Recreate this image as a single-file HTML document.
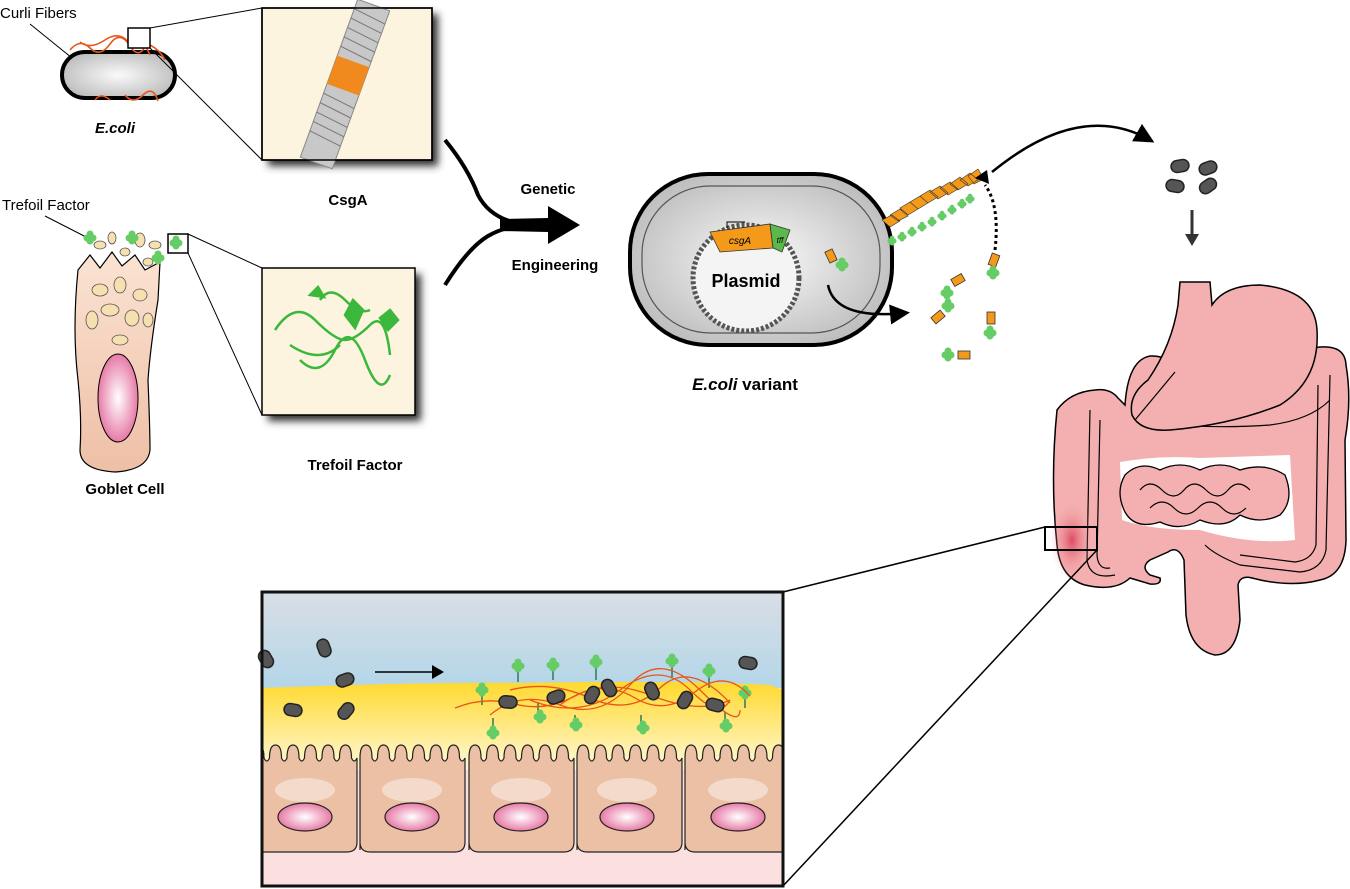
<!DOCTYPE html>
<html><head><meta charset="utf-8"><style>
html,body{margin:0;padding:0;background:#fff;}
svg{display:block;font-family:"Liberation Sans",Arial,sans-serif;}
</style></head><body>
<svg width="1350" height="889" viewBox="0 0 1350 889" xmlns="http://www.w3.org/2000/svg">
<defs>
<radialGradient id="cellg" cx="0.5" cy="0.5" r="0.6"><stop offset="0" stop-color="#fafafa"/><stop offset="1" stop-color="#b8b8b8"/></radialGradient>
<radialGradient id="nuc" cx="0.5" cy="0.5" r="0.5"><stop offset="0" stop-color="#fff"/><stop offset="1" stop-color="#e77aa6"/></radialGradient>
<linearGradient id="yel" x1="0" y1="0" x2="0" y2="1"><stop offset="0" stop-color="#ffd92e"/><stop offset="1" stop-color="#fff9d8"/></linearGradient>
<linearGradient id="blue" x1="0" y1="0" x2="0" y2="1"><stop offset="0" stop-color="#d9dee6"/><stop offset="1" stop-color="#b3d6e8"/></linearGradient>
<linearGradient id="gob" x1="0" y1="0" x2="0" y2="1"><stop offset="0" stop-color="#fbe3d3"/><stop offset="1" stop-color="#eebfa6"/></linearGradient>
<radialGradient id="red" cx="0.5" cy="0.5" r="0.5"><stop offset="0" stop-color="#d83050" stop-opacity="0.8"/><stop offset="1" stop-color="#f5b0b0" stop-opacity="0"/></radialGradient>
<filter id="sh" x="-20%" y="-20%" width="150%" height="150%"><feGaussianBlur stdDeviation="4"/></filter>
<clipPath id="pc"><rect x="262" y="592" width="521" height="294"/></clipPath>
<marker id="ah" markerWidth="8" markerHeight="8" refX="6" refY="4" orient="auto" markerUnits="strokeWidth"><path d="M0,0 L8,4 L0,8 z" fill="#000"/></marker>
<g id="bac"><rect x="-9" y="-6" width="18" height="12" rx="6" fill="#555" stroke="#222" stroke-width="1.5"/></g>
<g id="tf"><circle cx="-3" cy="0" r="3.5" fill="#6c6"/><circle cx="3" cy="0" r="3.5" fill="#6c6"/><circle cx="0" cy="-4" r="3.5" fill="#6c6"/><circle cx="0" cy="3" r="3.5" fill="#6c6"/></g>
<path id="cell" d="M0,850 L0,758 q0,-13 6,-13 q6,0 6,13 q2.75,6 5.5,0 q0,-13 6,-13 q6,0 6,13 q2.75,6 5.5,0 q0,-13 6,-13 q6,0 6,13 q2.75,6 5.5,0 q0,-13 6,-13 q6,0 6,13 q2.75,6 5.5,0 q0,-13 6,-13 q6,0 6,13 q2.75,6 5.5,0 q0,-13 6,-13 q6,0 6,13 q2.75,6 5.5,0 L105,842 Q105,852 95,852 L10,852 Q0,852 0,842 Z" fill="#ecc0a4" stroke="#222" stroke-width="1.2"/>
</defs>

<!-- Top-left E. coli -->
<text x="0" y="18" font-size="15">Curli Fibers</text>
<line x1="30" y1="24" x2="72" y2="58" stroke="#000" stroke-width="1"/>
<rect x="62" y="52" width="113" height="46" rx="23" fill="url(#cellg)" stroke="#000" stroke-width="4"/>
<g fill="none" stroke="#e8561a" stroke-width="1.6">
<path d="M70,50 q10,-12 20,-2 t20,-4 t20,2 t18,-6 M80,42 q10,8 25,-2 t25,4 M125,95 q8,10 18,0 t15,6 M95,100 q6,-8 15,0 M135,35 q10,8 15,20 M150,45 q10,5 15,15"/>
</g>
<rect x="128" y="28" width="22" height="20" fill="#fff" stroke="#000" stroke-width="1.5"/>
<line x1="150" y1="28" x2="262" y2="8" stroke="#000"/><line x1="150" y1="48" x2="262" y2="160" stroke="#000"/>
<text x="115" y="133" font-size="15" font-weight="bold" font-style="italic" text-anchor="middle">E.coli</text>
<rect x="268" y="14" width="170" height="152" fill="#333" filter="url(#sh)"/>
<rect x="262" y="8" width="170" height="152" fill="#fdf4e0" stroke="#000" stroke-width="1.5"/>
<g transform="rotate(20 345 84)">
<rect x="328" y="0" width="34" height="168" fill="#c8c8c8" stroke="#888"/>
<rect x="328" y="60" width="34" height="30" fill="#f08a1e"/>
<g stroke="#777" stroke-width="1">
<line x1="328" y1="10" x2="362" y2="14"/><line x1="328" y1="20" x2="362" y2="24"/><line x1="328" y1="30" x2="362" y2="34"/><line x1="328" y1="40" x2="362" y2="44"/><line x1="328" y1="50" x2="362" y2="54"/><line x1="328" y1="100" x2="362" y2="104"/><line x1="328" y1="110" x2="362" y2="114"/><line x1="328" y1="120" x2="362" y2="124"/><line x1="328" y1="130" x2="362" y2="134"/><line x1="328" y1="140" x2="362" y2="144"/></g>
</g>
<rect x="262" y="8" width="170" height="152" fill="none" stroke="#000" stroke-width="1.5"/>
<text x="348" y="205" font-size="15" font-weight="bold" text-anchor="middle">CsgA</text>

<!-- Goblet cell -->
<text x="2" y="210" font-size="15">Trefoil Factor</text>
<line x1="45" y1="216" x2="88" y2="238" stroke="#000"/>
<path d="M78,270 L90,255 L100,268 L112,252 L122,266 L135,255 L145,270 L160,262 L158,300 Q150,350 148,380 Q150,430 150,450 Q148,470 115,472 Q80,470 80,450 Q82,420 78,380 Q72,330 78,270 Z" fill="url(#gob)" stroke="#000" stroke-width="1.2"/>
<g fill="#f7e0b0" stroke="#555" stroke-width="0.8">
<ellipse cx="100" cy="245" rx="6" ry="4"/><ellipse cx="112" cy="238" rx="4" ry="6"/><ellipse cx="140" cy="240" rx="5" ry="7"/><ellipse cx="155" cy="245" rx="6" ry="4"/><ellipse cx="125" cy="252" rx="5" ry="4"/><ellipse cx="148" cy="262" rx="5" ry="4"/><ellipse cx="100" cy="290" rx="8" ry="6"/><ellipse cx="120" cy="285" rx="6" ry="8"/><ellipse cx="140" cy="295" rx="7" ry="6"/><ellipse cx="110" cy="310" rx="9" ry="6"/><ellipse cx="132" cy="318" rx="7" ry="8"/><ellipse cx="92" cy="320" rx="6" ry="9"/><ellipse cx="148" cy="320" rx="5" ry="7"/><ellipse cx="120" cy="340" rx="8" ry="5"/></g>
<g transform="translate(90,238)"><use href="#tf"/></g><g transform="translate(132,238)"><use href="#tf"/></g><g transform="translate(158,258)"><use href="#tf"/></g><g transform="translate(176,243)"><use href="#tf"/></g>
<ellipse cx="118" cy="398" rx="20" ry="44" fill="url(#nuc)" stroke="#000" stroke-width="1"/>
<rect x="168" y="234" width="20" height="19" fill="none" stroke="#000" stroke-width="1.5"/>
<line x1="188" y1="234" x2="262" y2="268" stroke="#000"/><line x1="188" y1="253" x2="262" y2="415" stroke="#000"/>
<text x="125" y="494" font-size="15" font-weight="bold" text-anchor="middle">Goblet Cell</text>
<rect x="268" y="274" width="153" height="147" fill="#333" filter="url(#sh)"/>
<rect x="262" y="268" width="153" height="147" fill="#fdf4e0" stroke="#000" stroke-width="1.5"/>
<g fill="none" stroke="#3bb83b" stroke-width="2.5">
<path d="M275,330 q20,-30 40,-10 t30,20 t25,-15 t20,30 M300,360 q20,20 35,-10 t30,10 t25,15 M320,300 q10,-15 25,0 t25,10 M290,345 q30,20 50,0"/>
<path d="M345,315 l8,-15 l10,10 l-8,18 z M380,318 l10,-8 l8,10 l-10,10 z M310,295 l8,-8 l6,10 z" fill="#3bb83b"/></g>
<text x="355" y="470" font-size="15" font-weight="bold" text-anchor="middle">Trefoil Factor</text>

<!-- Engineering arrows -->
<path d="M445,140 Q468,168 478,195 Q492,222 530,225" fill="none" stroke="#000" stroke-width="4"/>
<path d="M445,285 Q468,248 488,236 Q505,226 530,225" fill="none" stroke="#000" stroke-width="4"/>
<path d="M500,219 L548,218 L548,206 L580,225 L548,244 L548,232 L500,231 z" fill="#000"/>
<text x="548" y="194" font-size="15" font-weight="bold" text-anchor="middle">Genetic</text>
<text x="555" y="270" font-size="15" font-weight="bold" text-anchor="middle">Engineering</text>

<!-- E coli variant -->
<rect x="630" y="174" width="262" height="171" rx="78" fill="url(#cellg)" stroke="#000" stroke-width="4"/>
<rect x="642" y="186" width="238" height="147" rx="68" fill="none" stroke="#555" stroke-width="1.2"/>
<circle cx="746" cy="278" r="53" fill="#f4f4f4" stroke="#555" stroke-width="5" stroke-dasharray="3 2"/>
<path d="M710,232 L770,224 L773,248 L720,252 z" fill="#f49a1a" stroke="#333" stroke-width="0.8"/>
<path d="M770,224 L790,230 L782,252 L773,248 z" fill="#5bb84b" stroke="#333" stroke-width="0.8"/>
<text x="740" y="244" font-size="10" font-style="italic" text-anchor="middle">csgA</text>
<text x="780" y="243" font-size="8" font-style="italic" text-anchor="middle">tff</text>
<path d="M727,228 v-6 h18" fill="none" stroke="#000" stroke-width="1"/>
<text x="746" y="287" font-size="18" font-weight="bold" text-anchor="middle">Plasmid</text>
<text x="745" y="390" font-size="17" font-weight="bold" text-anchor="middle"><tspan font-style="italic">E.coli</tspan> variant</text>
<!-- fiber -->
<g fill="#f49a1a" stroke="#333" stroke-width="0.6">
<path d="M882,220 l10,-5 l8,6 l-10,6 z M890,215 l10,-6 l8,7 l-10,5 z M900,208 l10,-6 l8,7 l-10,6 z M910,202 l10,-6 l8,7 l-10,6 z M920,196 l10,-6 l8,7 l-10,6 z M930,192 l10,-6 l8,7 l-10,6 z M940,188 l10,-6 l8,7 l-10,6 z M950,184 l10,-7 l8,7 l-10,6 z M960,180 l10,-7 l8,7 l-10,6 z M968,176 l10,-7 l6,10 l-10,5 z"/></g>
<g><use href="#tf" transform="translate(892,241) scale(0.7)"/><use href="#tf" transform="translate(902,237) scale(0.7)"/><use href="#tf" transform="translate(912,232) scale(0.7)"/><use href="#tf" transform="translate(922,227) scale(0.7)"/><use href="#tf" transform="translate(932,222) scale(0.7)"/><use href="#tf" transform="translate(942,216) scale(0.7)"/><use href="#tf" transform="translate(952,210) scale(0.7)"/><use href="#tf" transform="translate(962,204) scale(0.7)"/><use href="#tf" transform="translate(970,199) scale(0.7)"/></g>
<g fill="#f49a1a" stroke="#333" stroke-width="0.8">
<rect x="827" y="250" width="8" height="12" transform="rotate(-25 831 256)"/><rect x="990" y="254" width="8" height="12" transform="rotate(20 994 260)"/><rect x="952" y="276" width="12" height="8" transform="rotate(-30 958 280)"/><rect x="932" y="313" width="12" height="8" transform="rotate(-40 938 317)"/><rect x="987" y="312" width="8" height="12"/><rect x="958" y="351" width="12" height="8"/></g>
<use href="#tf" transform="translate(842,265)"/><use href="#tf" transform="translate(993,273)"/><use href="#tf" transform="translate(947,293)"/><use href="#tf" transform="translate(948,306)"/><use href="#tf" transform="translate(990,333)"/><use href="#tf" transform="translate(948,355)"/>
<path d="M828,285 Q835,320 905,313" fill="none" stroke="#000" stroke-width="2.5" marker-end="url(#ah)"/>
<path d="M995,250 Q1000,205 985,185" fill="none" stroke="#000" stroke-width="3" stroke-dasharray="3 3"/>
<path d="M975,178 l12,-8 l2,14 z" fill="#000"/>
<path d="M992,172 Q1080,100 1150,140" fill="none" stroke="#000" stroke-width="2.5" marker-end="url(#ah)"/>
<use href="#bac" transform="translate(1180,166) rotate(-10)"/><use href="#bac" transform="translate(1208,168) rotate(-20)"/><use href="#bac" transform="translate(1175,186) rotate(10)"/><use href="#bac" transform="translate(1208,186) rotate(-35)"/>
<line x1="1192" y1="210" x2="1192" y2="236" stroke="#333" stroke-width="3"/><path d="M1185,234 l14,0 l-7,12 z" fill="#333"/>

<!-- GI tract -->
<g stroke="#000" stroke-width="1.5" fill="#f4b0b0">
<!-- colon silhouette -->
<path d="M1057,410 Q1070,392 1095,390 Q1110,388 1118,398 L1125,405 Q1128,360 1150,356 Q1170,355 1175,372 L1250,362 Q1300,350 1320,347 Q1345,345 1346,365 Q1352,400 1345,440 L1346,540 Q1345,575 1320,580 Q1290,588 1252,578 Q1240,575 1238,585 L1240,620 Q1236,655 1215,655 Q1190,650 1186,615 L1184,560 Q1178,545 1168,552 L1150,560 Q1140,567 1150,575 L1160,578 Q1162,585 1150,584 L1130,578 Q1115,592 1085,585 Q1060,578 1057,545 Q1050,480 1057,410 Z"/>
</g>
<path d="M1120,462 Q1160,455 1200,458 L1290,455 L1295,540 Q1250,545 1200,530 Q1150,530 1122,520 Z" fill="#fff"/>
<g fill="#f4b0b0" stroke="#000" stroke-width="1.3">
<path d="M1125,475 q15,-15 35,-5 q20,-10 40,0 q20,-10 40,0 q25,-8 45,5 q10,25 -5,40 q-20,10 -40,0 q-15,15 -40,5 q-20,12 -40,2 q-25,8 -35,-10 q-10,-20 0,-37 Z"/>
</g>
<g fill="none" stroke="#000" stroke-width="1.2">
<path d="M1140,490 q10,-12 22,0 t22,0 t22,0 t22,0 t22,0 M1150,508 q12,-12 24,0 t24,0 t24,0 t24,0"/>
<path d="M1090,410 L1087,560 Q1090,580 1115,575 M1100,420 L1097,555 Q1098,570 1110,568"/>
<path d="M1330,375 L1326,550 Q1322,570 1300,572 L1240,565 Q1215,555 1205,545 M1318,385 L1316,545 Q1312,560 1295,562 L1240,555"/>
<path d="M1135,420 Q1200,430 1270,425 Q1310,420 1330,400"/>
</g>
<path d="M1180,282 L1210,282 L1212,305 Q1225,285 1260,285 Q1315,290 1317,330 Q1320,380 1280,405 Q1230,425 1170,430 Q1140,432 1132,415 Q1128,395 1148,380 Q1172,345 1178,305 Z" fill="#f4b0b0" stroke="#000" stroke-width="1.5"/>
<path d="M1135,420 Q1160,390 1175,372" fill="none" stroke="#000" stroke-width="1.2"/>
<ellipse cx="1072" cy="540" rx="22" ry="40" fill="url(#red)"/>
<rect x="1045" y="527" width="52" height="23" fill="none" stroke="#000" stroke-width="2"/>
<line x1="1045" y1="527" x2="783" y2="592" stroke="#000" stroke-width="1.5"/>
<line x1="1097" y1="550" x2="783" y2="886" stroke="#000" stroke-width="1.5"/>

<!-- Bottom panel -->
<g clip-path="url(#pc)">
<rect x="262" y="592" width="521" height="294" fill="#fce0e0"/>
<rect x="262" y="592" width="521" height="96" fill="url(#blue)"/>
<path d="M262,688 Q420,682 520,683 Q680,680 770,685 L783,690 L783,770 L262,770 Z" fill="url(#yel)"/>
<use href="#cell" transform="translate(252,0)"/>
<use href="#cell" transform="translate(360,0)"/>
<use href="#cell" transform="translate(469,0)"/>
<use href="#cell" transform="translate(577,0)"/>
<use href="#cell" transform="translate(685,0)"/>
</g>
<g fill="#f7e6dc" opacity="0.7"><ellipse cx="305" cy="790" rx="30" ry="12"/><ellipse cx="412" cy="790" rx="30" ry="12"/><ellipse cx="521" cy="790" rx="30" ry="12"/><ellipse cx="627" cy="790" rx="30" ry="12"/><ellipse cx="738" cy="790" rx="30" ry="12"/></g>
<g fill="url(#nuc)" stroke="#222" stroke-width="1.2">
<ellipse cx="305" cy="817" rx="27" ry="14"/><ellipse cx="412" cy="817" rx="27" ry="14"/><ellipse cx="521" cy="817" rx="27" ry="14"/><ellipse cx="627" cy="817" rx="27" ry="14"/><ellipse cx="738" cy="817" rx="27" ry="14"/></g>
<line x1="375" y1="672" x2="432" y2="672" stroke="#000" stroke-width="1.5"/><path d="M432,665 l12,7 l-12,7 z" fill="#000"/>
<use href="#bac" transform="translate(324,648) rotate(70)"/><use href="#bac" transform="translate(345,680) rotate(-20)"/><use href="#bac" transform="translate(293,710) rotate(10)"/><use href="#bac" transform="translate(346,711) rotate(-50)"/><use href="#bac" transform="translate(266,659) rotate(60)"/><use href="#bac" transform="translate(748,663) rotate(10)"/>
<g stroke="#2a7a5a" stroke-width="1.5"><line x1="518" y1="670" x2="518" y2="682"/><line x1="553" y1="669" x2="553" y2="680"/><line x1="596" y1="665" x2="596" y2="680"/><line x1="672" y1="664" x2="672" y2="677"/><line x1="709" y1="675" x2="709" y2="688"/><line x1="482" y1="693" x2="482" y2="705"/><line x1="745" y1="697" x2="745" y2="708"/><line x1="538" y1="702" x2="538" y2="715"/><line x1="575" y1="715" x2="575" y2="722"/><line x1="641" y1="715" x2="641" y2="725"/><line x1="725" y1="712" x2="725" y2="722"/><line x1="493" y1="718" x2="493" y2="730"/></g>
<g><use href="#tf" transform="translate(518,666)"/><use href="#tf" transform="translate(553,665)"/><use href="#tf" transform="translate(596,662)"/><use href="#tf" transform="translate(672,661)"/><use href="#tf" transform="translate(709,671)"/><use href="#tf" transform="translate(482,690)"/><use href="#tf" transform="translate(745,693)"/><use href="#tf" transform="translate(540,717)"/><use href="#tf" transform="translate(576,725)"/><use href="#tf" transform="translate(643,728)"/><use href="#tf" transform="translate(726,726)"/><use href="#tf" transform="translate(493,733)"/></g>
<g fill="none" stroke="#e8561a" stroke-width="1.3">
<path d="M455,708 q30,-12 60,-4 t60,-8 t60,2 t60,-6 t55,4 M490,715 q30,-25 70,-10 t70,-20 t70,5 t40,20 M510,690 q40,-10 80,8 t70,-10 t70,15 M530,700 q50,20 90,-10 t70,0 t40,10 M560,705 q40,-30 90,-10 t80,5"/></g>
<use href="#bac" transform="translate(508,702) rotate(5)"/><use href="#bac" transform="translate(556,697) rotate(-20)"/><use href="#bac" transform="translate(592,695) rotate(-60)"/><use href="#bac" transform="translate(609,688) rotate(60)"/><use href="#bac" transform="translate(652,691) rotate(65)"/><use href="#bac" transform="translate(685,700) rotate(-60)"/><use href="#bac" transform="translate(715,705) rotate(15)"/>
<rect x="262" y="592" width="521" height="294" fill="none" stroke="#111" stroke-width="3"/>
</svg>
</body></html>
